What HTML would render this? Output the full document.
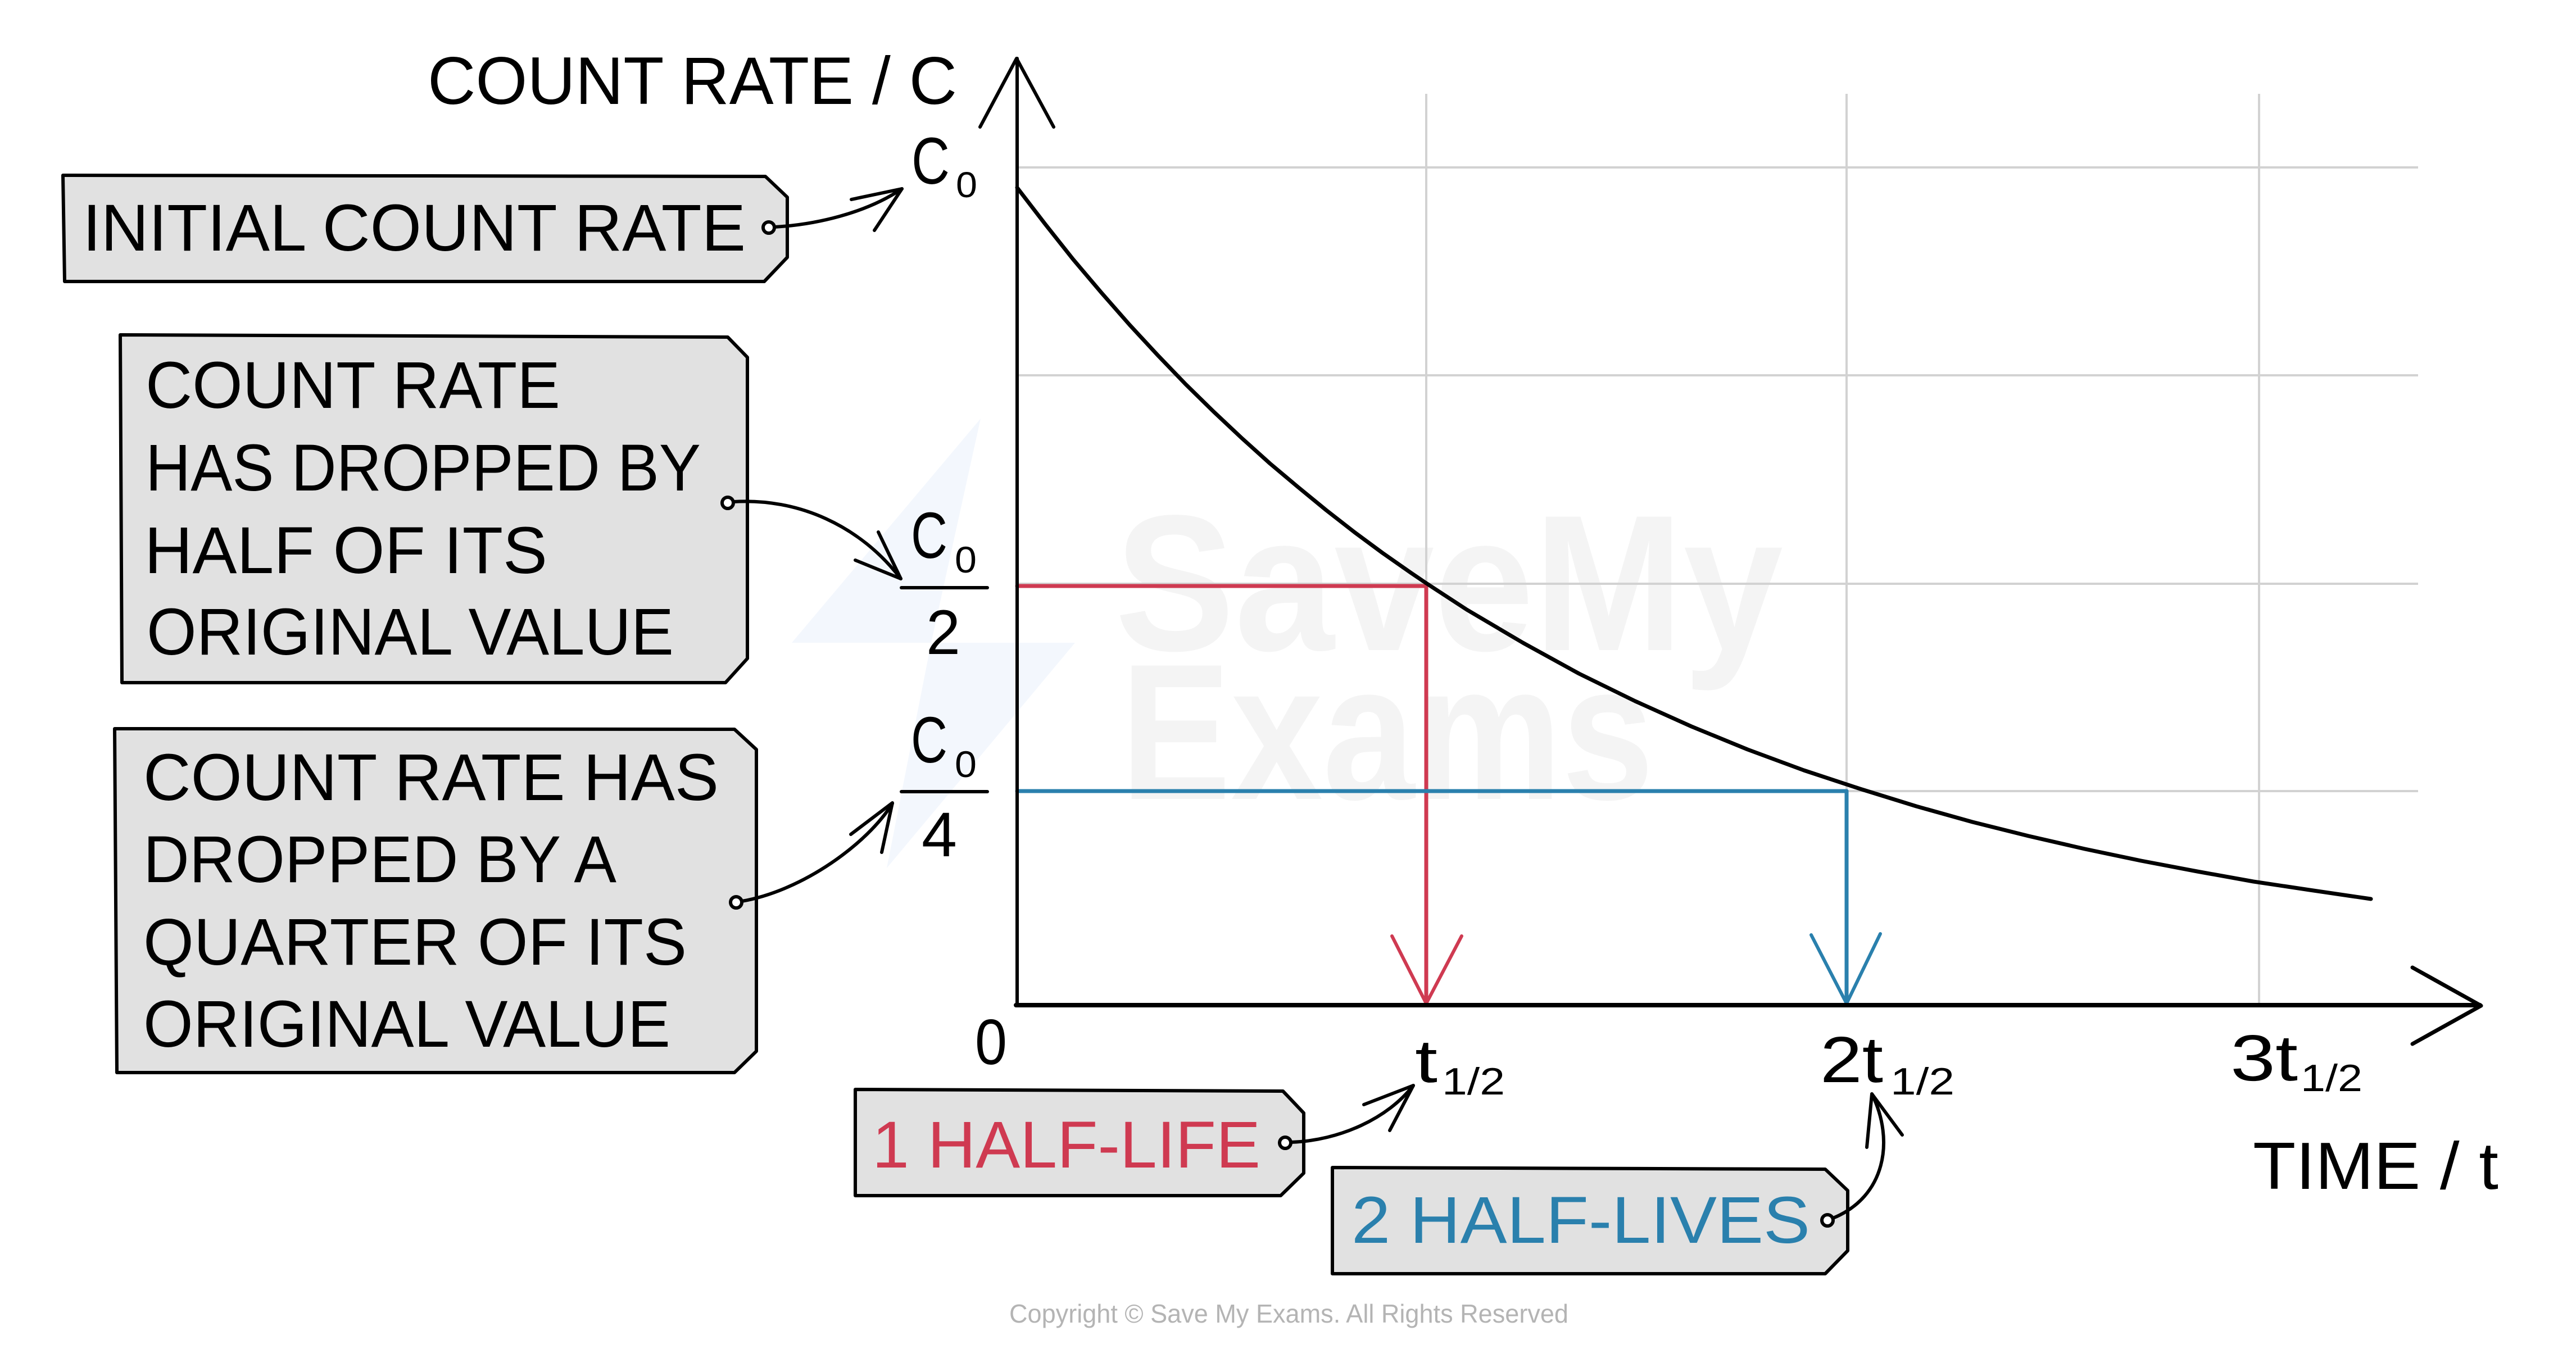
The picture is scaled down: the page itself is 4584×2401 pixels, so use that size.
<!DOCTYPE html>
<html>
<head>
<meta charset="utf-8">
<style>
  html,body{margin:0;padding:0;background:#fff;}
  svg{display:block;}
  text{font-family:"Liberation Sans","DejaVu Sans",sans-serif;}
</style>
</head>
<body>
<svg xmlns="http://www.w3.org/2000/svg" width="4584" height="2401" viewBox="0 0 4584 2401">
  <rect x="0" y="0" width="4584" height="2401" fill="#ffffff"/>

  <!-- watermark logo -->
  <polygon points="1745,745 1409,1144 1657,1144" fill="#f3f7fd"/>
  <polygon points="1657,1144 1913,1144 1578,1545" fill="#f3f7fd"/>
  <!-- watermark text -->
  <text x="1984" y="1157" font-size="345" font-weight="bold" fill="#f4f4f4" textLength="1189" lengthAdjust="spacingAndGlyphs">SaveMy</text>
  <text x="1994" y="1422" font-size="345" font-weight="bold" fill="#f4f4f4" textLength="949" lengthAdjust="spacingAndGlyphs">Exams</text>

  <!-- gridlines -->
  <g stroke="#d2d2d2" stroke-width="4" fill="none">
    <line x1="1810" y1="298" x2="4303" y2="298"/>
    <line x1="1810" y1="668" x2="4303" y2="668"/>
    <line x1="1810" y1="1039" x2="4303" y2="1039"/>
    <line x1="1810" y1="1408" x2="4303" y2="1408"/>
    <line x1="2538" y1="167" x2="2538" y2="1788"/>
    <line x1="3286" y1="167" x2="3286" y2="1788"/>
    <line x1="4020" y1="167" x2="4020" y2="1788"/>
  </g>

  <!-- red half-life lines -->
  <g stroke="#cf3a51" stroke-width="7" fill="none" stroke-linecap="round" stroke-linejoin="round">
    <line x1="1810" y1="1043" x2="2538" y2="1043"/>
    <line x1="2538" y1="1043" x2="2538" y2="1786"/>
    <polyline points="2477,1666 2538,1786 2601,1666" stroke-width="6"/>
  </g>
  <!-- blue lines -->
  <g stroke="#2a80ad" stroke-width="7" fill="none" stroke-linecap="round" stroke-linejoin="round">
    <line x1="1810" y1="1408" x2="3286" y2="1408"/>
    <line x1="3286" y1="1408" x2="3286" y2="1786"/>
    <polyline points="3223,1664 3286,1786 3346,1662" stroke-width="6"/>
  </g>

  <!-- decay curve -->
  <polyline fill="none" stroke="#000" stroke-width="7" stroke-linejoin="round" stroke-linecap="round"
    points="1810,334 1860,399 1910,462 1960,521 2010,578 2060,632 2110,684 2160,733 2210,780 2260,825 2310,867 2360,908 2410,947 2460,984 2510,1019 2538,1038 2610,1085 2710,1144 2810,1199 2910,1248 3010,1293 3110,1334 3210,1371 3310,1404 3410,1435 3510,1463 3610,1488 3710,1511 3810,1532 3910,1551 4010,1569 4110,1584 4219,1600"/>

  <!-- axes -->
  <g stroke="#000" fill="none" stroke-linecap="round" stroke-linejoin="round">
    <line x1="1810" y1="104" x2="1810" y2="1790" stroke-width="6"/>
    <polyline points="1744,226 1809,104 1875,226" stroke-width="6"/>
    <line x1="1808" y1="1789" x2="4413" y2="1789" stroke-width="8"/>
    <polyline points="4293,1722 4415,1790 4293,1858" stroke-width="7"/>
  </g>

  <!-- axis labels -->
  <text x="761" y="185" font-size="120" fill="#000" textLength="942" lengthAdjust="spacingAndGlyphs">COUNT RATE / C</text>
  <text x="4009" y="2116" font-size="119" fill="#000" textLength="437" lengthAdjust="spacingAndGlyphs">TIME / t</text>

  <!-- C0 -->
  <text x="1622" y="327" font-size="118" fill="#000" textLength="68" lengthAdjust="spacingAndGlyphs">C</text>
  <text x="1701" y="351" font-size="64" fill="#000" textLength="38" lengthAdjust="spacingAndGlyphs">0</text>

  <!-- C0/2 -->
  <text x="1621" y="993" font-size="116" fill="#000" textLength="65" lengthAdjust="spacingAndGlyphs">C</text>
  <text x="1699" y="1019" font-size="66" fill="#000" textLength="39" lengthAdjust="spacingAndGlyphs">0</text>
  <line x1="1604" y1="1046" x2="1757" y2="1046" stroke="#000" stroke-width="6" stroke-linecap="round"/>
  <text x="1648" y="1164" font-size="112" fill="#000" textLength="61" lengthAdjust="spacingAndGlyphs">2</text>

  <!-- C0/4 -->
  <text x="1621" y="1357" font-size="116" fill="#000" textLength="65" lengthAdjust="spacingAndGlyphs">C</text>
  <text x="1699" y="1383" font-size="66" fill="#000" textLength="39" lengthAdjust="spacingAndGlyphs">0</text>
  <line x1="1604" y1="1409" x2="1757" y2="1409" stroke="#000" stroke-width="6" stroke-linecap="round"/>
  <text x="1640" y="1524" font-size="112" fill="#000" textLength="63" lengthAdjust="spacingAndGlyphs">4</text>

  <!-- origin -->
  <text x="1735" y="1894" font-size="114" fill="#000" textLength="57" lengthAdjust="spacingAndGlyphs">0</text>

  <!-- t1/2 labels -->
  <text x="2518" y="1926" font-size="108" fill="#000" textLength="40" lengthAdjust="spacingAndGlyphs">t</text>
  <text x="2566" y="1948" font-size="68" fill="#000" textLength="112" lengthAdjust="spacingAndGlyphs">1/2</text>

  <text x="3239" y="1926" font-size="116" fill="#000" textLength="112" lengthAdjust="spacingAndGlyphs">2t</text>
  <text x="3364" y="1948" font-size="68" fill="#000" textLength="114" lengthAdjust="spacingAndGlyphs">1/2</text>

  <text x="3969" y="1923" font-size="116" fill="#000" textLength="120" lengthAdjust="spacingAndGlyphs">3t</text>
  <text x="4094" y="1942" font-size="68" fill="#000" textLength="110" lengthAdjust="spacingAndGlyphs">1/2</text>

  <!-- boxes -->
  <g fill="#e1e1e1" stroke="#000" stroke-width="6" stroke-linejoin="round">
    <polygon points="112,312 1362,314 1401,351 1401,458 1360,501 115,501"/>
    <polygon points="214,596 1295,600 1330,636 1330,1172 1291,1215 217,1215"/>
    <polygon points="204,1297 1307,1298 1346,1334 1346,1871 1307,1909 208,1909"/>
    <polygon points="1522,1939 2283,1942 2320,1981 2320,2088 2279,2128 1522,2128"/>
    <polygon points="2371,2078 3248,2081 3288,2119 3288,2226 3248,2267 2371,2267"/>
  </g>

  <!-- box texts -->
  <text x="147" y="446" font-size="118" fill="#000" textLength="1180" lengthAdjust="spacingAndGlyphs">INITIAL COUNT RATE</text>

  <text x="259" y="726" font-size="118" fill="#000" textLength="738" lengthAdjust="spacingAndGlyphs">COUNT RATE</text>
  <text x="259" y="873" font-size="118" fill="#000" textLength="988" lengthAdjust="spacingAndGlyphs">HAS DROPPED BY</text>
  <text x="257" y="1020" font-size="118" fill="#000" textLength="717" lengthAdjust="spacingAndGlyphs">HALF OF ITS</text>
  <text x="261" y="1165" font-size="118" fill="#000" textLength="938" lengthAdjust="spacingAndGlyphs">ORIGINAL VALUE</text>

  <text x="255" y="1424" font-size="118" fill="#000" textLength="1024" lengthAdjust="spacingAndGlyphs">COUNT RATE HAS</text>
  <text x="255" y="1570" font-size="118" fill="#000" textLength="842" lengthAdjust="spacingAndGlyphs">DROPPED BY A</text>
  <text x="255" y="1717" font-size="118" fill="#000" textLength="967" lengthAdjust="spacingAndGlyphs">QUARTER OF ITS</text>
  <text x="255" y="1863" font-size="118" fill="#000" textLength="938" lengthAdjust="spacingAndGlyphs">ORIGINAL VALUE</text>

  <text x="1552" y="2078" font-size="118" fill="#cf3a51" textLength="691" lengthAdjust="spacingAndGlyphs">1 HALF-LIFE</text>
  <text x="2405" y="2212" font-size="118" fill="#2a80ad" textLength="816" lengthAdjust="spacingAndGlyphs">2 HALF-LIVES</text>

  <!-- connectors -->
  <g fill="none" stroke="#000" stroke-width="6" stroke-linecap="round" stroke-linejoin="round">
    <circle cx="1368" cy="405" r="10" fill="#fff"/>
    <path d="M1378,404 C1450,400 1540,380 1605,336"/>
    <polyline points="1515,355 1605,336 1556,410"/>

    <circle cx="1295" cy="895" r="10" fill="#fff"/>
    <path d="M1305,893 C1420,886 1530,935 1603,1030"/>
    <polyline points="1522,997 1603,1030 1563,947"/>

    <circle cx="1310" cy="1606" r="10" fill="#fff"/>
    <path d="M1320,1604 C1430,1585 1545,1500 1588,1430"/>
    <polyline points="1514,1485 1588,1429 1569,1517"/>

    <circle cx="2287" cy="2034" r="10" fill="#fff"/>
    <path d="M2297,2033 C2385,2030 2470,1990 2515,1932"/>
    <polyline points="2427,1966 2515,1932 2473,2012"/>

    <circle cx="3252" cy="2172" r="10" fill="#fff"/>
    <path d="M3262,2168 C3355,2130 3372,2030 3331,1947"/>
    <polyline points="3322,2042 3331,1947 3385,2020"/>
  </g>

  <!-- copyright -->
  <text x="1796" y="2354" font-size="46" fill="#b4b4b4" textLength="995" lengthAdjust="spacingAndGlyphs">Copyright © Save My Exams. All Rights Reserved</text>
</svg>
</body>
</html>
